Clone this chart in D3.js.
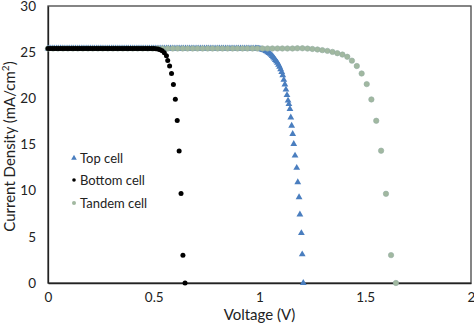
<!DOCTYPE html>
<html>
<head>
<meta charset="utf-8">
<script src="https://cdn.jsdelivr.net/npm/d3@7"></script>
<style>
  body { margin: 0; background: #fff; }
  text { font-family: Lato, "Liberation Sans", sans-serif; fill: #222; }
</style>
</head>
<body>
<div id="chart"></div>
<script>
// values (V in volts, J in mA/cm2)
var xTicks = [0, 0.5, 1, 1.5, 2];
var yTicks = [0, 5, 10, 15, 20, 25, 30];
var seriesNames = ["Top cell", "Bottom cell", "Tandem cell"];

var topV = [0,0.01,0.02,0.03,0.04,0.05,0.06,0.07,0.08,0.09,0.1,0.11,0.12,0.13,0.14,0.15,0.16,0.17,0.18,0.19,
  0.2,0.21,0.22,0.23,0.24,0.25,0.26,0.27,0.28,0.29,0.3,0.31,0.32,0.33,0.34,0.35,0.36,0.37,0.38,0.39,
  0.4,0.41,0.42,0.43,0.44,0.45,0.46,0.47,0.48,0.49,0.5,0.51,0.52,0.53,0.54,0.55,0.56,0.57,0.58,0.59,
  0.6,0.61,0.62,0.63,0.64,0.65,0.66,0.67,0.68,0.69,0.7,0.71,0.72,0.73,0.74,0.75,0.76,0.77,0.78,0.79,
  0.8,0.81,0.82,0.83,0.84,0.85,0.86,0.87,0.88,0.89,0.9,0.91,0.92,0.93,0.94,0.95,0.96,0.97,0.98,
  0.985,0.99,0.995,1.0,1.005,1.01,1.015,1.02,1.025,1.03,1.035,1.04,1.045,1.05,1.055,1.06,1.065,1.07,1.075,1.08,
  1.085,1.09,1.095,1.1,1.105,1.11,1.115,1.12,1.125,1.13,1.135,1.139,1.144,1.148,1.152,1.157,1.162,1.168,
  1.176,1.181,1.187,1.191,1.198,1.202,1.207];
var topJ = [25.4,25.4,25.4,25.4,25.4,25.4,25.4,25.4,25.4,25.4,25.4,25.4,25.4,25.4,25.4,25.4,25.4,25.4,25.4,25.4,
  25.4,25.4,25.4,25.4,25.4,25.4,25.4,25.4,25.4,25.4,25.4,25.4,25.4,25.4,25.4,25.4,25.4,25.4,25.4,25.4,
  25.4,25.4,25.4,25.4,25.4,25.4,25.4,25.4,25.4,25.4,25.4,25.4,25.4,25.4,25.4,25.4,25.4,25.4,25.4,25.4,
  25.4,25.4,25.4,25.4,25.4,25.4,25.4,25.4,25.4,25.4,25.4,25.4,25.4,25.4,25.4,25.4,25.4,25.4,25.4,25.4,
  25.4,25.4,25.4,25.4,25.4,25.4,25.4,25.4,25.4,25.4,25.4,25.4,25.4,25.4,25.4,25.4,25.4,25.4,25.4,
  25.39,25.38,25.37,25.35,25.33,25.3,25.27,25.23,25.19,25.13,25.07,24.99,24.91,24.82,24.71,24.59,24.45,24.32,24.16,24.0,
  23.85,23.64,23.42,23.15,22.85,22.5,22.0,21.5,20.95,20.35,19.75,19.38,18.84,17.93,17.04,16.14,15.06,13.8,
  12.47,10.91,9.29,7.42,5.4,3.1,0];

var bottomV = [0,0.01,0.02,0.03,0.04,0.05,0.06,0.07,0.08,0.09,0.1,0.11,0.12,0.13,0.14,0.15,0.16,0.17,0.18,0.19,
  0.2,0.21,0.22,0.23,0.24,0.25,0.26,0.27,0.28,0.29,0.3,0.31,0.32,0.33,0.34,0.35,0.36,0.37,0.38,0.39,
  0.4,0.41,0.42,0.43,0.44,0.45,0.46,0.47,0.48,0.49,0.5,0.51,0.52,0.53,0.54,0.55,0.56,
  0.566,0.575,0.584,0.593,0.602,0.611,0.62,0.629,0.638,0.648];
var bottomJ = [25.4,25.4,25.4,25.4,25.4,25.4,25.4,25.4,25.4,25.4,25.4,25.4,25.4,25.4,25.4,25.4,25.4,25.4,25.4,25.4,
  25.4,25.4,25.4,25.4,25.4,25.4,25.4,25.4,25.4,25.4,25.4,25.4,25.4,25.4,25.4,25.4,25.4,25.4,25.4,25.4,
  25.4,25.4,25.4,25.4,25.4,25.4,25.4,25.4,25.4,25.4,25.39,25.37,25.33,25.27,25.15,24.95,24.62,
  24.1,23.5,22.7,21.5,19.9,17.6,14.3,9.7,3.0,0];

var tandemV = [0,0.024,0.047,0.071,0.094,0.118,0.141,0.165,0.189,0.212,0.236,0.259,0.283,0.307,0.33,0.354,0.377,0.401,0.424,0.448,
  0.472,0.495,0.519,0.542,0.566,0.59,0.613,0.637,0.66,0.684,0.707,0.731,0.755,0.778,0.802,0.825,0.849,0.873,0.896,0.92,
  0.943,0.967,0.99,1.014,1.038,1.061,1.085,1.108,1.132,1.156,1.179,1.203,1.227,1.25,1.274,1.297,1.321,1.345,1.368,1.392,
  1.415,1.437,1.46,1.483,1.507,1.529,1.552,1.575,1.598,1.622,1.645];
var tandemJ = [25.4,25.4,25.4,25.4,25.4,25.4,25.4,25.4,25.4,25.4,25.4,25.4,25.4,25.4,25.4,25.4,25.4,25.4,25.4,25.4,
  25.4,25.4,25.4,25.4,25.4,25.4,25.4,25.4,25.4,25.4,25.4,25.4,25.4,25.4,25.4,25.4,25.4,25.4,25.4,25.4,
  25.4,25.4,25.4,25.4,25.4,25.4,25.4,25.4,25.4,25.4,25.42,25.42,25.39,25.35,25.29,25.22,25.14,25.03,24.89,24.74,
  24.5,24.08,23.5,22.69,21.54,19.88,17.57,14.33,9.66,3.02,0];

var width = 474, height = 327;
var margin = {left: 48, top: 6, right: 3, bottom: 44};
var plotW = width - margin.left - margin.right;
var plotH = height - margin.top - margin.bottom;

var svg = d3.select("#chart").append("svg").attr("width", width).attr("height", height);

var x = d3.scaleLinear().domain([0, 2]).range([margin.left, margin.left + plotW]);
var y = d3.scaleLinear().domain([0, 30]).range([margin.top + plotH, margin.top]);

//plot frame
svg.append("rect")
  .attr("x", x(0)).attr("y", y(30))
  .attr("width", x(2) - x(0)).attr("height", y(0) - y(30))
  .attr("fill", "none").attr("stroke", "#444").attr("stroke-width", 1.3);

//axes, labels only
var xAxis = svg.append("g")
  .attr("transform", "translate(0," + y(0) + ")")
  .call(d3.axisBottom(x).tickValues(xTicks).tickSize(0).tickPadding(9).tickFormat(d3.format("")));
var yAxis = svg.append("g")
  .attr("transform", "translate(" + x(0) + ",0)")
  .call(d3.axisLeft(y).tickValues(yTicks).tickSize(0).tickPadding(12));
[xAxis, yAxis].forEach(function(a) {
  a.select(".domain").attr("stroke", "#222").attr("stroke-width", 1.3);
  a.selectAll("text").style("font-size", "13.5px").attr("fill", "#222")
    .style("font-family", "Lato, 'Liberation Sans', sans-serif");
});

svg.append("text")
  .attr("x", x(1)).attr("y", 320)
  .attr("text-anchor", "middle")
  .style("font-size", "15px")
  .text("Voltage (V)");

var yl = svg.append("text")
  .attr("transform", "translate(15," + (y(15) + 2) + ") rotate(-90)")
  .attr("text-anchor", "middle")
  .style("font-size", "15px");
yl.append("tspan").text("Current Density (mA/cm");
yl.append("tspan").attr("baseline-shift", "super").style("font-size", "10px").text("2");
yl.append("tspan").text(")");

var tri = d3.symbol().type(d3.symbolTriangle).size(20);

function pts(V, J) {
  return V.map(function(v, i) { return {v: v, j: J[i]}; });
}

//top cell
svg.append("g").selectAll("path")
  .data(pts(topV, topJ)).enter().append("path")
  .attr("d", tri)
  .attr("transform", function(d) { return "translate(" + x(d.v) + "," + y(d.j) + ")"; })
  .attr("fill", "#4a7ebf");

//tandem cell
svg.append("g").selectAll("circle")
  .data(pts(tandemV, tandemJ)).enter().append("circle")
  .attr("cx", function(d) { return x(d.v); })
  .attr("cy", function(d) { return y(d.j); })
  .attr("r", 2.7)
  .attr("fill", "#a1b8a0")
  .attr("stroke", "#93aca2").attr("stroke-width", 0.6);

//bottom cell
svg.append("g").selectAll("circle")
  .data(pts(bottomV, bottomJ)).enter().append("circle")
  .attr("cx", function(d) { return x(d.v); })
  .attr("cy", function(d) { return y(d.j); })
  .attr("r", 2.5)
  .attr("fill", "#000");

//legend
var legY = [158, 180, 203];
var leg = svg.append("g");
seriesNames.forEach(function(name, i) {
  var g = leg.append("g").attr("transform", "translate(74," + legY[i] + ")");
  if (i === 0) g.append("path").attr("d", d3.symbol().type(d3.symbolTriangle).size(14)).attr("fill", "#4a7ebf");
  if (i === 1) g.append("circle").attr("r", 1.8).attr("fill", "#000");
  if (i === 2) g.append("circle").attr("r", 2).attr("fill", "#a1b8a0");
  g.append("text").attr("x", 6).attr("dy", "0.35em").style("font-size", "13px").text(name);
});
</script>
</body>
</html>
